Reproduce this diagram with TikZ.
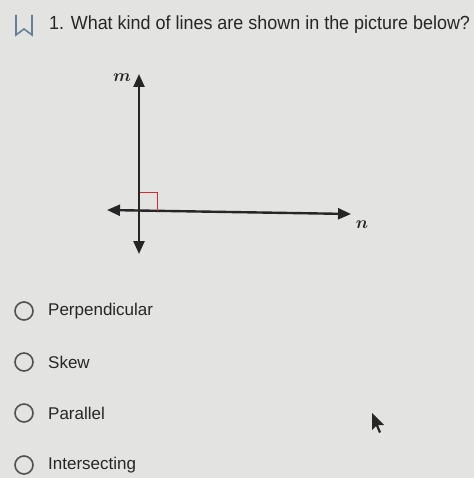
\documentclass[tikz,border=0pt]{standalone}
\usepackage{bm}
\usepackage{fontspec}
\setmainfont{Liberation Sans}
\usetikzlibrary{arrows.meta}
\definecolor{bg}{HTML}{E3E3E1}
\definecolor{ink}{HTML}{262626}
\definecolor{iconblue}{HTML}{62809A}
\definecolor{redsq}{HTML}{D52B2B}
\begin{document}
\begin{tikzpicture}[x=1pt,y=-1pt,
  txt/.style={font=\fontsize{17}{19}\selectfont, text=ink, anchor=west, inner sep=0pt},
  radio/.style={circle, draw=ink!80, line width=1.6pt, minimum size=18pt, inner sep=0pt},
  ln/.style={ink, line width=2.4pt, {Triangle[length=13pt,width=11pt]}-{Triangle[length=13pt,width=11pt]}},
  lbl/.style={font=\fontsize{18}{20}\selectfont, text=ink, inner sep=0pt}]
\fill[bg] (0,0) rectangle (474,478);
\useasboundingbox (0,0) rectangle (474,478);
% bookmark icon
\draw[iconblue, line width=1.6pt, line join=miter] (16,15) -- (16,35) -- (24,29) -- (32,35) -- (32,15);
% title
\node[txt] (title) at (49,25) {\fontsize{19}{21}\selectfont\scalebox{0.945}[1]{1. What kind of lines are shown in the picture below?}};
% lines
\coordinate (mt) at (139,74);
\coordinate (mb) at (139,254);
\coordinate (nl) at (107,210);
\coordinate (nr) at (351,214);
\draw[ln] (mb) -- (mt);
\draw[ln] (nl) -- (nr);
\draw[redsq, line width=1.8pt] (139.5,192.5) -- (157.5,192.5) -- (157.5,210.5);
\node[lbl] (m) at (122,78) {$\bm{m}$};
\node[lbl] (n) at (362,225) {$\bm{n}$};
% options
\node[radio] (r1) at (24,311) {};
\node[txt] (o1) at (48,311) {Perpendicular};
\node[radio] (r2) at (24,362) {};
\node[txt] (o2) at (48,362) {Skew};
\node[radio] (r3) at (24,413) {};
\node[txt] (o3) at (48,413) {Parallel};
\node[radio] (r4) at (24,465) {};
\node[txt] (o4) at (48,465) {Intersecting};
% cursor
\fill[black!85] (372,413) -- (372,430) -- (376,426) -- (379,433) -- (381,432) -- (378,425) -- (384,425) -- cycle;
\end{tikzpicture}
\end{document}
